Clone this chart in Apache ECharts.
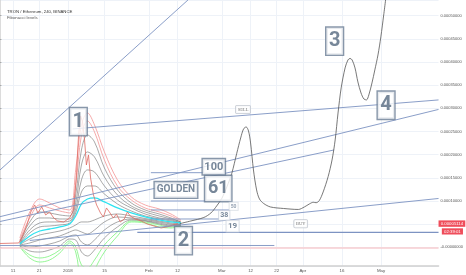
<!DOCTYPE html>
<html><head><meta charset="utf-8">
<script src="https://cdn.jsdelivr.net/npm/echarts@6/dist/echarts.min.js"></script>
<style>html,body{margin:0;padding:0;background:#fff}#c{width:466px;height:275px}</style>
</head><body><div id="c"></div>
<script>
// x positions are days since 2017-12-06 ; prices are in units of 1e-8 ETH
const startDate = '2017-12-06';
const dayCount = 169;
const tickDates = ['2017-12-11','2017-12-21','2018-01-01','2018-01-15','2018-02-01','2018-02-12','2018-03-01','2018-03-12','2018-03-22','2018-04-01','2018-04-16','2018-05-01'];
const tickLabels = ['11','21','2018','15','Feb','12','Mar','12','22','Apr','16','May'];

const lastPrice = 5114;
const lastTime = '02:39:01';

// indicator bands (Fibonacci levels)
const bandDays   = [7.6, 11.4, 15.2, 19.0, 22.9, 26.7, 29.0, 31.2, 33.5, 36.2, 40.0, 45.0, 50.3, 55.6, 61.0, 65.5, 69.3];
const redOuter   = [2010, 7620, 10430, 9570, 8490, 8060, 16700, 26420, 29010, 26420, 20590, 14540, 10870, 9140, 8270, 7190, 5900];
const redInner   = [1580, 6330, 9140, 8490, 7840, 7410, 13460, 24260, 27280, 24910, 18860, 13240, 10220, 8490, 7630, 6760, 5680];
const greyUp1    = [1360, 5470, 7630, 7410, 6980, 6760, 11300, 21020, 24260, 22750, 17130, 12380, 9570, 8060, 7190, 6330, 5470];
const greyUp2    = [1150, 4600, 6330, 6330, 6110, 6110, 9570, 17780, 20590, 19510, 15190, 11300, 8920, 7630, 6760, 6110, 5470];
const greyUp3    = [930, 3740, 5250, 5470, 5470, 5680, 8270, 14540, 16700, 16270, 13240, 10220, 8490, 7190, 6330, 5900, 5250];
const greyUp4    = [820, 3090, 4390, 4600, 4820, 5250, 7410, 11950, 13240, 13240, 11510, 9350, 7840, 6760, 6110, 5680, 5250];
const centerLine = [710, 2440, 3520, 3950, 4390, 5030, 6760, 9350, 10430, 10650, 9790, 8490, 7410, 6550, 5900, 5470, 5250];
const greyLow4   = [610, 1790, 2660, 3090, 3520, 4170, 4820, 5470, 5470, 5900, 6760, 7190, 6760, 6220, 5680, 5250, 5030];
const greyLow3   = [500, 930, 1580, 2010, 2440, 3310, 3740, 3310, 2870, 3740, 5470, 6550, 6330, 6010, 5470, 5030, 4920];
const greyLow2   = [390, 70, 280, 710, 1360, 2440, 2660, 1150, 500, 1580, 3740, 5470, 6110, 5790, 5250, 4820, 4820];
const greyLow1   = [280, -800, -1020, -580, 280, 1790, 1580, -1020, -1880, -580, 2010, 4390, 5900, 5680, 5030, 4600, 4710];
const greenInner = [170, -1660, -2310, -1880, -580, 1360, 70, -3820, -4470, -2740, 500, 3310, 5680, 5470, 4820, 4390, 4600];
const greenOuter = [70, -2310, -3180, -2740, -1230, 930, -1020, -7630, -8500, -4900, -1020, 2440, 5470, 5250, 4390, 4170, 4600];

// price path
const priceDays = [0, 7.2, 8.4, 10.3, 11.8, 13.3, 14.5, 16, 17.5, 19, 20.6, 22.1, 24.4, 26.7, 28.2, 29.3, 30.1, 30.9, 31.6, 32.4, 33.1, 33.9, 34.7, 35.8, 37, 38.5, 39.6, 40.8, 41.9, 43.4, 44.6, 46.1, 47.6, 48.8, 49.9, 51.8, 54.1, 56.4, 59, 61.7, 64, 66.3, 68.2];
const priceVals = [820, 930, 2010, 4820, 7630, 9140, 7410, 8710, 6980, 7630, 6330, 5680, 5470, 6330, 8060, 15620, 24260, 28360, 27070, 23180, 17780, 19940, 14970, 11300, 9140, 7410, 6550, 8490, 7630, 6330, 7190, 5470, 6110, 7630, 6760, 6110, 5680, 5030, 4600, 4170, 4390, 4820, 5110];

// hand-drawn projection
const projDays = [68.9, 73.1, 78.1, 80.8, 83.0, 85.0, 86.9, 88.8, 90.7, 92.2, 93.3, 94.3, 95.2, 96.0, 97.1, 98.3, 99.4, 101.0, 103.6, 108.6, 114.3, 116.6, 118.5, 120.0, 121.1, 122.3, 123.8, 125.7, 127.2, 128.4, 129.5, 130.7, 132.2, 133.3, 134.1, 134.9, 136.0, 137.1, 138.3, 139.4, 140.4, 141.3, 142.5, 143.6, 144.8, 145.9, 147.0, 148.2];
const projVals = [5110, 5680, 6440, 7410, 8920, 10580, 13030, 15980, 20300, 23610, 25550, 25990, 25120, 22530, 16700, 12380, 10430, 9460, 8710, 8380, 8170, 8710, 9350, 9720, 9630, 10070, 11950, 15250, 18860, 23180, 29010, 34410, 38730, 40460, 40780, 40460, 38730, 35710, 33330, 32030, 31820, 32900, 35490, 38300, 41540, 45430, 50180, 55580];

// drawn trend lines and levels: [day, price]
const lineSteep = [[0, 16700], [80, 57480]];
const lineSell  = [[27.8, 25550], [168, 31820]];
const lineUpper = [[0, 6610], [168, 29770]];
const lineMid   = [[0, 5570], [128, 21020]];
const lineLow   = [[11.4, 1470], [168, 10540]];
const levelZero = [[0, 390], [105.1, 390]];
const levelBuy  = [[52.6, 3240], [168, 3240]];
const fib100    = [[57.8, 16110], [78, 16110]];
const fib61     = [[57.8, 10000], [79, 10000]];
const fib50     = [[57.8, 8060], [88, 8060]];
const fib38     = [[57.8, 6110], [84, 6110]];

// notes
const noteText = ['1', '2', '3', '4', 'GOLDEN', '61', '100', '50', '38', '19', 'SELL', 'BUY'];
const noteDay  = [30.0, 70.3, 128.2, 147.9, 67.4, 83.6, 81.9, 89.5, 85.9, 89.1, 93.1, 115.2];
const noteVal  = [27130, 1430, 44500, 30670, 12380, 12700, 17390, 8860, 6870, 4560, 29770, 5080];
const noteKind = ['big', 'big', 'big', 'big', 'golden', 'n61', 'n100', 'n50', 'n38', 'n19', 'tag', 'tag'];

const S = 1e-8;
const boxBase = {fontFamily: 'Roboto', fontWeight: 'bold', color: '#55697f', backgroundColor: '#fff', borderColor: '#6a7d95', borderWidth: 1.4};
const noteStyle = {
  big:    Object.assign({}, boxBase, {fontSize: 20, lineHeight: 22, padding: [2.5, 2.5, 2.5, 2.5]}),
  golden: Object.assign({}, boxBase, {fontSize: 10, lineHeight: 11, padding: [2.2, 2, 2.2, 2]}),
  n61:    Object.assign({}, boxBase, {fontSize: 18, lineHeight: 20, padding: [2.5, 2.7, 2.5, 2.7]}),
  n100:   Object.assign({}, boxBase, {fontSize: 11, lineHeight: 11, padding: [2, 1.5, 2, 1.5]}),
  n50:    Object.assign({}, boxBase, {fontSize: 5, lineHeight: 5, padding: [1.2, 1.3, 1.2, 1.3], borderWidth: 0.8, borderColor: '#d3d9e1', color: '#7c8ca0'}),
  n38:    Object.assign({}, boxBase, {fontSize: 7, lineHeight: 7, padding: [1, 1.3, 1, 1.3], borderWidth: 0.8, borderColor: '#c9d1dc'}),
  n19:    Object.assign({}, boxBase, {fontSize: 8, lineHeight: 8, padding: [1.5, 1.6, 1.5, 1.6], borderWidth: 0.8, borderColor: '#c9d1dc'}),
  tag:    {fontFamily: 'Liberation Serif', fontSize: 4.5, lineHeight: 4.5, color: '#555', backgroundColor: '#fff', padding: [1.5, 1.8, 1.5, 1.8], borderColor: '#b8bec8', borderWidth: 0.8, borderRadius: 1}
};

function pairs(xs, ys) { return xs.map((x, i) => [x, ys[i] * S]); }
function seg(arr) { return arr.map(p => [p[0], p[1] * S]); }
function line(data, color, width, opts) {
  return Object.assign({type: 'line', xAxisIndex: 0, yAxisIndex: 0, data: data, showSymbol: false, symbol: 'none',
    silent: true, animation: false, lineStyle: {color: color, width: width}}, opts || {});
}

const cats = [];
const t0 = Date.UTC(2017, 11, 6);
for (let i = 0; i < dayCount; i++) { cats.push(new Date(t0 + i * 86400000).toISOString().slice(0, 10)); }
const tickSet = new Set(tickDates);
const showTick = (i, v) => tickSet.has(v);

const blue = '#7d93c2';
const grey = 'rgba(90,90,90,0.75)';
const bandSm = 0.35;
const series = [
  line(pairs(bandDays, greenOuter), '#8af58a', 0.9, {smooth: bandSm}),
  line(pairs(bandDays, greenInner), '#8af58a', 0.9, {smooth: bandSm}),
  line(pairs(bandDays, greyLow1), grey, 0.7, {smooth: bandSm}),
  line(pairs(bandDays, greyLow2), grey, 0.7, {smooth: bandSm}),
  line(pairs(bandDays, greyLow3), grey, 0.7, {smooth: bandSm}),
  line(pairs(bandDays, greyLow4), grey, 0.7, {smooth: bandSm}),
  line(pairs(bandDays, greyUp4), grey, 0.7, {smooth: bandSm}),
  line(pairs(bandDays, greyUp3), grey, 0.7, {smooth: bandSm}),
  line(pairs(bandDays, greyUp2), grey, 0.7, {smooth: bandSm}),
  line(pairs(bandDays, greyUp1), grey, 0.7, {smooth: bandSm}),
  line(pairs(bandDays, redInner), '#f4a0a0', 0.9, {smooth: bandSm}),
  line(pairs(bandDays, redOuter), '#f4a0a0', 0.9, {smooth: bandSm}),
  line(pairs(bandDays, centerLine), '#2ee3f0', 1.3, {smooth: bandSm}),
  line(pairs(priceDays, priceVals), '#de6a62', 0.8, {
    markLine: {silent: true, symbol: ['none', 'none'], animation: false, label: {show: false},
      lineStyle: {color: '#f7cdd0', width: 1.5, type: 'solid'}, data: [{yAxis: lastPrice * S}]},
    markPoint: {silent: true, animation: false, symbol: 'circle', symbolSize: 0, itemStyle: {color: 'transparent'},
      data: [
        {coord: [168, lastPrice * S], label: {show: true, position: 'right', distance: 0, formatter: (lastPrice * S).toFixed(8),
          backgroundColor: '#ef4d5b', color: '#fff', fontSize: 4.3, fontFamily: 'Liberation Sans', padding: [1.3, 2.2, 1.1, 2.2]}},
        {coord: [168, lastPrice * S], label: {show: true, position: 'right', distance: 0, offset: [3.3, 7.8], formatter: lastTime,
          backgroundColor: '#ef4d5b', color: '#fff', fontSize: 4.3, fontFamily: 'Liberation Sans', padding: [1.1, 2.2, 1.1, 2.2]}}
      ]}
  }),
  line(seg(lineSteep), blue, 0.9),
  line(seg(lineSell), blue, 0.9),
  line(seg(lineUpper), blue, 0.9),
  line(seg(lineMid), blue, 0.9),
  line(seg(lineLow), blue, 0.9),
  line(seg(levelZero), blue, 0.9),
  line(seg(levelBuy), blue, 1.2),
  line(seg(fib100), blue, 0.9),
  line(seg(fib61), blue, 0.9),
  line(seg(fib50), blue, 0.9),
  line(seg(fib38), blue, 0.9),
  line(pairs(projDays, projVals), '#555', 0.8, {smooth: 0.3}),
  {type: 'scatter', xAxisIndex: 0, yAxisIndex: 0, silent: true, animation: false, z: 10, symbolSize: 1,
    itemStyle: {color: 'transparent'},
    data: noteText.map((t, i) => ({value: [noteDay[i], noteVal[i] * S],
      label: Object.assign({show: true, position: 'inside', formatter: t}, noteStyle[noteKind[i]])}))}
];

const chart = echarts.init(document.getElementById('c'), null, {renderer: 'canvas'});
chart.setOption({
  animation: false,
  backgroundColor: '#fff',
  title: {text: 'TRON / Ethereum, 240, BINANCE', subtext: 'Fibonacci levels', left: 2, top: 4.5, itemGap: 2,
    textStyle: {fontSize: 4.3, fontWeight: 'normal', color: '#333', fontFamily: 'Liberation Sans'},
    subtextStyle: {fontSize: 4.3, color: '#555', fontFamily: 'Liberation Sans'}},
  grid: {left: 0, right: 25, top: 0, bottom: 9, containLabel: false},
  xAxis: [
    {type: 'value', min: 0, max: 168, show: false},
    {type: 'category', data: cats, boundaryGap: false, position: 'bottom',
      axisLine: {show: true, lineStyle: {color: '#d0d0d0', width: 1.5}},
      axisTick: {show: false},
      axisLabel: {interval: showTick, formatter: v => tickLabels[tickDates.indexOf(v)] || '', fontSize: 4.4, color: '#555', margin: 2.5, fontFamily: 'Liberation Sans'},
      splitLine: {show: true, interval: showTick, lineStyle: {color: '#eef2f8', width: 1}}}
  ],
  yAxis: {type: 'value', position: 'right', min: -0.0000404, max: 0.000534, splitNumber: 11,
    axisLine: {show: true, lineStyle: {color: '#d0d0d0', width: 1.5}},
    axisTick: {show: true, length: 1.5, lineStyle: {color: '#888', width: 0.6}},
    axisLabel: {showMinLabel: false, showMaxLabel: false, margin: 2, fontSize: 4, color: '#555', fontFamily: 'Liberation Sans',
      formatter: v => Math.abs(v) < 1e-12 ? '-0.00000000' : v.toFixed(8)},
    splitLine: {show: true, lineStyle: {color: '#eef2f8', width: 1}}},
  series: series
});
</script>
</body></html>
